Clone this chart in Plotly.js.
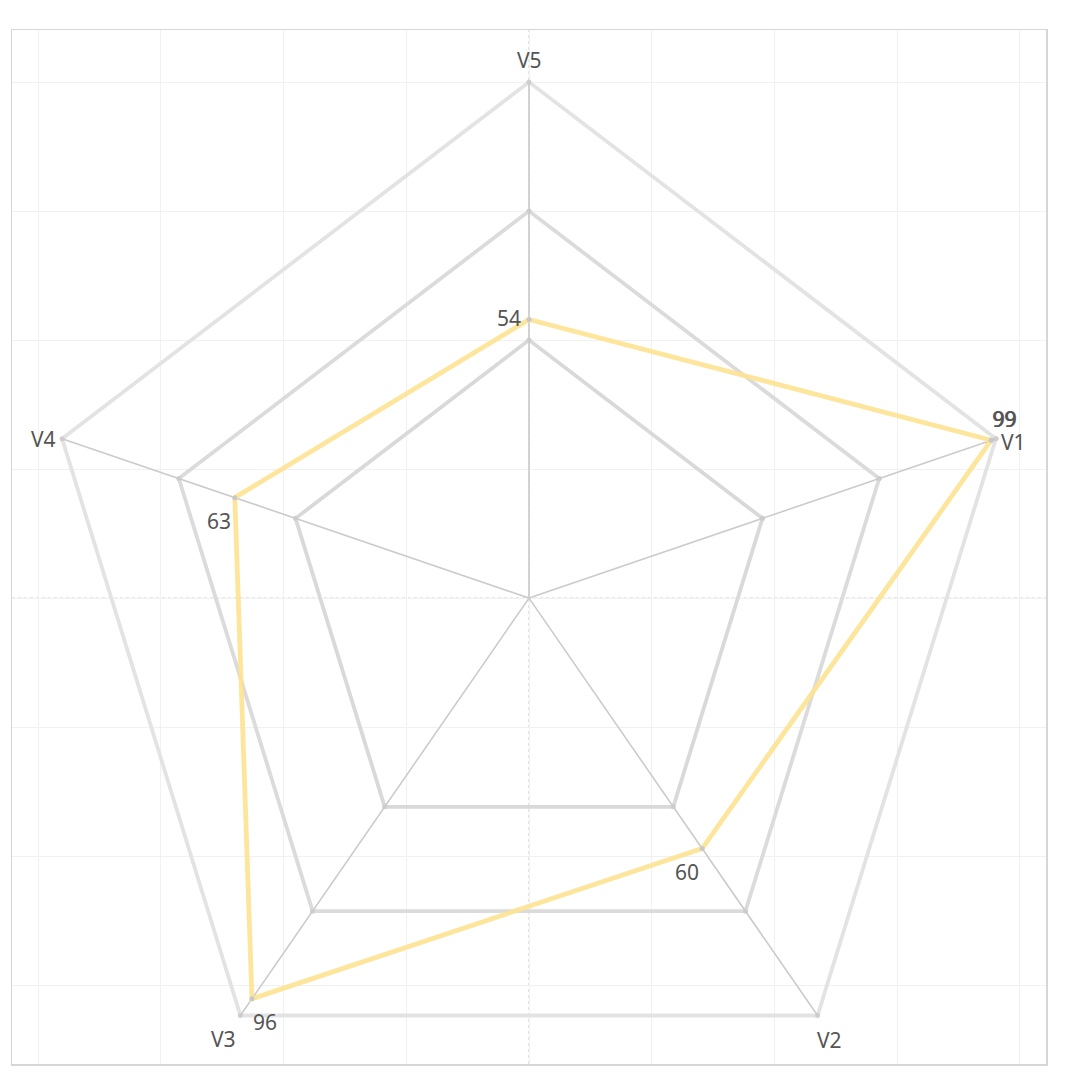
<!DOCTYPE html>
<html>
<head>
<meta charset="utf-8">
<script src="https://cdn.plot.ly/plotly-3.0.1.min.js"></script>
<style>
    html, body { margin: 0; padding: 0; background: #ffffff; }
    #chart { width: 1080px; height: 1080px; }
</style>
</head>
<body>
<div id="chart"></div>
<script>
const categories = ["V1", "V2", "V3", "V4", "V5"];
const values = [99, 60, 96, 63, 54];
const ringLevels = [50, 75, 100];

// label placement around each point: [xanchor, xshift, yshift] in pixels
const valueLabelOffsets = [
    ["left", -1, 21],
    ["right", -1, -23],
    ["left", -1, -23],
    ["right", -2, -23],
    ["right", -6, 1],
];
const categoryLabelOffsets = [
    ["left", 3, -3],
    ["left", -3, -24],
    ["right", -2, -23],
    ["right", -4, 0],
    ["center", 0, 22],
];

const RING_COLORS = ["#d9d9d9", "#dbdbdb", "#e3e3e3"];
const LABEL_FONT = {
    family: "\"Noto Sans\", \"Open Sans\", sans-serif",
    color: "#555555",
    size: 21,
};

// V1 sits 18 degrees above the horizontal, the rest follow clockwise
function angleFor(index) {
    return (18 - 72 * index) * Math.PI / 180;
}

function polarX(radius, index) {
    return radius * Math.cos(angleFor(index));
}

function polarY(radius, index) {
    return radius * Math.sin(angleFor(index));
}

const closedIndexes = categories.map((_, index) => index).concat([0]);
const outerLevel = ringLevels[ringLevels.length - 1];

const traces = [];

ringLevels.forEach((level, ringIndex) => {
    traces.push({
        type: "scatter",
        mode: "lines+markers",
        x: closedIndexes.map((index) => polarX(level, index)),
        y: closedIndexes.map((index) => polarY(level, index)),
        line: { color: RING_COLORS[ringIndex], width: 3.8 },
        marker: { color: "#cfcfcf", size: 5 },
        hoverinfo: "skip",
        showlegend: false,
    });
});

const spokeX = [];
const spokeY = [];
categories.forEach((_, index) => {
    spokeX.push(0, polarX(outerLevel, index), null);
    spokeY.push(0, polarY(outerLevel, index), null);
});
traces.push({
    type: "scatter",
    mode: "lines",
    x: spokeX,
    y: spokeY,
    line: { color: "#cbcbcb", width: 1.6 },
    hoverinfo: "skip",
    showlegend: false,
});

traces.push({
    type: "scatter",
    mode: "lines+markers",
    x: closedIndexes.map((index) => polarX(values[index], index)),
    y: closedIndexes.map((index) => polarY(values[index], index)),
    line: { color: "rgba(253, 226, 145, 0.9)", width: 4.8 },
    marker: { color: "#c8c8c8", size: 5 },
    hoverinfo: "skip",
    showlegend: false,
});

function buildLabel(text, x, y, [xanchor, xshift, yshift]) {
    return {
        x,
        y,
        xref: "x",
        yref: "y",
        text,
        showarrow: false,
        xanchor,
        yanchor: "middle",
        xshift,
        yshift,
        font: LABEL_FONT,
    };
}

const annotations = [];
categories.forEach((category, index) => {
    annotations.push(buildLabel(category, polarX(outerLevel, index), polarY(outerLevel, index), categoryLabelOffsets[index]));
});
// the closing point of the polygon repeats V1, so its value is drawn twice
closedIndexes.forEach((index, position) => {
    const offset = valueLabelOffsets[index].slice();
    if (position === closedIndexes.length - 1) {
        offset[1] += 1;
    }
    annotations.push(buildLabel(String(values[index]), polarX(values[index], index), polarY(values[index], index), offset));
});

const layout = {
    width: 1080,
    height: 1080,
    margin: { t: 30, r: 34, b: 16, l: 12 },
    paper_bgcolor: "#ffffff",
    plot_bgcolor: "#ffffff",
    font: LABEL_FONT,
    xaxis: {
        range: [-105.3, 105.3],
        tick0: 0,
        dtick: 25,
        showticklabels: false,
        ticks: "",
        showgrid: true,
        gridcolor: "#f1f1f1",
        gridwidth: 1,
        zeroline: false,
        showline: true,
        mirror: true,
        linecolor: "#d6d6d6",
        linewidth: 1.5,
        fixedrange: true,
    },
    yaxis: {
        range: [-90.3, 110.1],
        tick0: 0,
        dtick: 25,
        showticklabels: false,
        ticks: "",
        showgrid: true,
        gridcolor: "#f1f1f1",
        gridwidth: 1,
        zeroline: false,
        showline: true,
        mirror: true,
        linecolor: "#d6d6d6",
        linewidth: 1.5,
        fixedrange: true,
    },
    shapes: [
        {
            type: "line", xref: "paper", yref: "y", x0: 0, x1: 1, y0: 0, y1: 0,
            line: { color: "#c8c8c8", width: 1, dash: "dot" },
            layer: "below",
        },
        {
            type: "line", xref: "x", yref: "paper", x0: 0, x1: 0, y0: 0, y1: 1,
            line: { color: "#c8c8c8", width: 1, dash: "dot" },
            layer: "below",
        },
    ],
    annotations,
    showlegend: false,
    hovermode: "closest",
};

Plotly.newPlot("chart", traces, layout, { displayModeBar: false, staticPlot: true });
</script>
</body>
</html>
